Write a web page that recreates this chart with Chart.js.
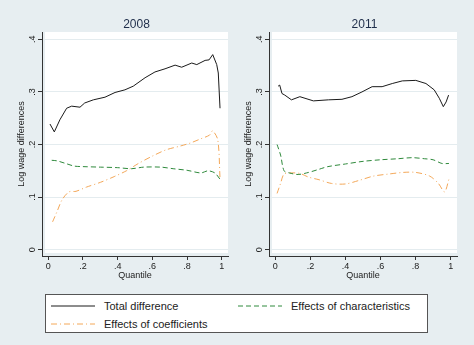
<!DOCTYPE html>
<html>
<head>
<meta charset="utf-8">
<script src="https://cdn.jsdelivr.net/npm/chart.js@4.4.1/dist/chart.umd.min.js"></script>
<style>
  html, body { margin: 0; padding: 0; }
  body { width: 474px; height: 345px; background: #e7eef1; position: relative; overflow: hidden; font-family: "Liberation Sans", Arial, sans-serif; }
  canvas { position: absolute; top: 0; }
  #c2008 { left: 0; }
  #c2011 { left: 237px; }
  #legend { position: absolute; left: 45px; top: 294px; width: 381px; height: 37px; background: #fff; border: 1px solid #555; }
  .item { position: absolute; display: flex; align-items: center; height: 14px; font-size: 11px; color: #222; white-space: nowrap; }
  .item svg { margin-right: 9px; }
</style>
</head>
<body>
<canvas id="c2008" width="237" height="285"></canvas>
<canvas id="c2011" width="237" height="285"></canvas>
<div id="legend"></div>
<script>
// --- DATA ---
const xTicks = [0, 0.2, 0.4, 0.6, 0.8, 1];
const xTickLabels = ["0", ".2", ".4", ".6", ".8", "1"];
const yTicks = [0, 0.1, 0.2, 0.3, 0.4];
const yTickLabels = ["0", ".1", ".2", ".3", ".4"];

// 2008
const q08Total = [0.01, 0.035, 0.067, 0.106, 0.135, 0.183, 0.21, 0.26, 0.327, 0.385, 0.442, 0.49, 0.558, 0.615, 0.673, 0.731, 0.769, 0.827, 0.856, 0.904, 0.927, 0.948, 0.971, 0.98, 0.99];
const v08Total = [0.239, 0.224, 0.247, 0.269, 0.273, 0.271, 0.279, 0.285, 0.290, 0.299, 0.304, 0.311, 0.327, 0.338, 0.344, 0.351, 0.347, 0.355, 0.352, 0.360, 0.361, 0.371, 0.352, 0.336, 0.269];
const q08Char = [0.02, 0.05, 0.10, 0.15, 0.20, 0.30, 0.40, 0.48, 0.55, 0.65, 0.72, 0.80, 0.88, 0.92, 0.96, 0.99];
const v08Char = [0.170, 0.169, 0.164, 0.159, 0.158, 0.157, 0.156, 0.154, 0.157, 0.157, 0.154, 0.151, 0.146, 0.150, 0.146, 0.134];
const q08Coef = [0.025, 0.05, 0.08, 0.12, 0.16, 0.22, 0.30, 0.38, 0.45, 0.52, 0.60, 0.68, 0.76, 0.82, 0.88, 0.93, 0.947, 0.977, 0.99];
const v08Coef = [0.053, 0.072, 0.095, 0.110, 0.111, 0.119, 0.128, 0.139, 0.150, 0.164, 0.178, 0.190, 0.197, 0.203, 0.211, 0.218, 0.226, 0.209, 0.136];

// 2011
const q11Total = [0.016, 0.025, 0.038, 0.054, 0.092, 0.14, 0.217, 0.303, 0.38, 0.437, 0.494, 0.552, 0.609, 0.667, 0.724, 0.801, 0.859, 0.906, 0.935, 0.958, 0.974, 0.988];
const v11Total = [0.311, 0.313, 0.297, 0.294, 0.285, 0.291, 0.283, 0.285, 0.286, 0.291, 0.300, 0.310, 0.310, 0.316, 0.321, 0.322, 0.316, 0.304, 0.288, 0.272, 0.281, 0.294];
const q11Char = [0.01, 0.03, 0.05, 0.08, 0.13, 0.19, 0.25, 0.30, 0.40, 0.50, 0.60, 0.70, 0.78, 0.85, 0.90, 0.95, 0.99];
const v11Char = [0.200, 0.180, 0.150, 0.146, 0.143, 0.147, 0.153, 0.158, 0.163, 0.168, 0.171, 0.173, 0.175, 0.173, 0.171, 0.164, 0.164];
const q11Coef = [0.01, 0.03, 0.05, 0.09, 0.14, 0.19, 0.25, 0.32, 0.40, 0.48, 0.56, 0.65, 0.73, 0.80, 0.88, 0.93, 0.965, 0.99];
const v11Coef = [0.107, 0.126, 0.144, 0.146, 0.145, 0.138, 0.133, 0.126, 0.125, 0.132, 0.140, 0.144, 0.147, 0.147, 0.140, 0.126, 0.110, 0.134];

const seriesNames = ["Total difference", "Effects of characteristics", "Effects of coefficients"];
const seriesColors = ["#1a1a1a", "#2f8a3c", "#f4a859"];
const seriesDash = [[], [5, 3], [6, 3, 1, 3]];

// --- HELPERS ---
const FONT = '"Liberation Sans", Arial, sans-serif';
const TXT = "#222";
const pts = (qs, vs) => qs.map((q, i) => ({ x: q, y: vs[i] }));

// white plot region inset from the axes + panel title
const panelPlugin = {
  id: "panel",
  beforeDraw(chart) {
    const { ctx, chartArea: a } = chart;
    ctx.save();
    ctx.fillStyle = "#fff";
    ctx.fillRect(a.left + 3, a.top, a.right - a.left - 3, a.bottom - a.top - 3);
    ctx.restore();
  },
  afterDraw(chart, args, opts) {
    const { ctx, chartArea: a } = chart;
    ctx.save();
    ctx.font = "12px " + FONT;
    ctx.fillStyle = "#1e2d4a";
    ctx.textAlign = "center";
    ctx.textBaseline = "middle";
    ctx.fillText(opts.text, (a.left + 3 + a.right) / 2, 25);
    ctx.restore();
  }
};

function makePanel(id, title, data, pad) {
  const datasets = data.map((d, i) => ({
    label: seriesNames[i],
    data: d,
    borderColor: seriesColors[i],
    borderDash: seriesDash[i],
    borderWidth: 1,
    pointRadius: 0,
    tension: i === 0 ? 0 : 0.3,
    fill: false
  }));
  return new Chart(document.getElementById(id), {
    type: "line",
    data: { datasets },
    plugins: [panelPlugin],
    options: {
      responsive: false,
      animation: false,
      layout: { padding: pad },
      plugins: { legend: { display: false }, tooltip: { enabled: false }, panel: { text: title } },
      scales: {
        x: {
          type: "linear", min: -0.036, max: 1.036,
          afterBuildTicks: s => { s.ticks = xTicks.map(v => ({ value: v })); },
          afterFit: s => { s.height = 29; },
          ticks: { callback: (v, i) => xTickLabels[i], font: { family: FONT, size: 9 }, color: TXT, padding: 1, maxRotation: 0, autoSkip: false },
          grid: { drawOnChartArea: false, tickLength: 4, tickColor: "#333" },
          border: { color: "#333", width: 1 },
          title: { display: true, text: "Quantile", font: { family: FONT, size: 9 }, color: TXT, padding: { top: 0, bottom: 4 } }
        },
        y: {
          type: "linear", min: -0.012, max: 0.414,
          afterBuildTicks: s => { s.ticks = yTicks.map(v => ({ value: v })); },
          afterFit: s => { s.width = 32; },
          ticks: { callback: (v, i) => yTickLabels[i], font: { family: FONT, size: 9 }, color: TXT, minRotation: 90, maxRotation: 90, crossAlign: "center", padding: 2, autoSkip: false },
          grid: { color: "#e4ecef", tickLength: 4, tickColor: "#333" },
          border: { color: "#333", width: 1 },
          title: { display: true, text: "Log wage differences", font: { family: FONT, size: 9 }, color: TXT, padding: { top: 6, bottom: 0 } }
        }
      }
    }
  });
}

makePanel("c2008", "2008", [pts(q08Total, v08Total), pts(q08Char, v08Char), pts(q08Coef, v08Coef)], { left: 10, right: 9, top: 32, bottom: 0 });
makePanel("c2011", "2011", [pts(q11Total, v11Total), pts(q11Char, v11Char), pts(q11Coef, v11Coef)], { left: 0, right: 17, top: 32, bottom: 0 });

// --- LEGEND ---
const legend = document.getElementById("legend");
const legendPos = [[5, 4], [192, 4], [5, 22]];
seriesNames.forEach((name, i) => {
  const el = document.createElement("div");
  el.className = "item";
  el.style.left = legendPos[i][0] + "px";
  el.style.top = legendPos[i][1] + "px";
  el.innerHTML = `<svg width="44" height="6"><line x1="0" y1="3" x2="44" y2="3" stroke="${seriesColors[i]}" stroke-width="1" stroke-dasharray="${seriesDash[i].join(",") || "none"}"/></svg><span>${name}</span>`;
  legend.appendChild(el);
});
</script>
</body>
</html>
